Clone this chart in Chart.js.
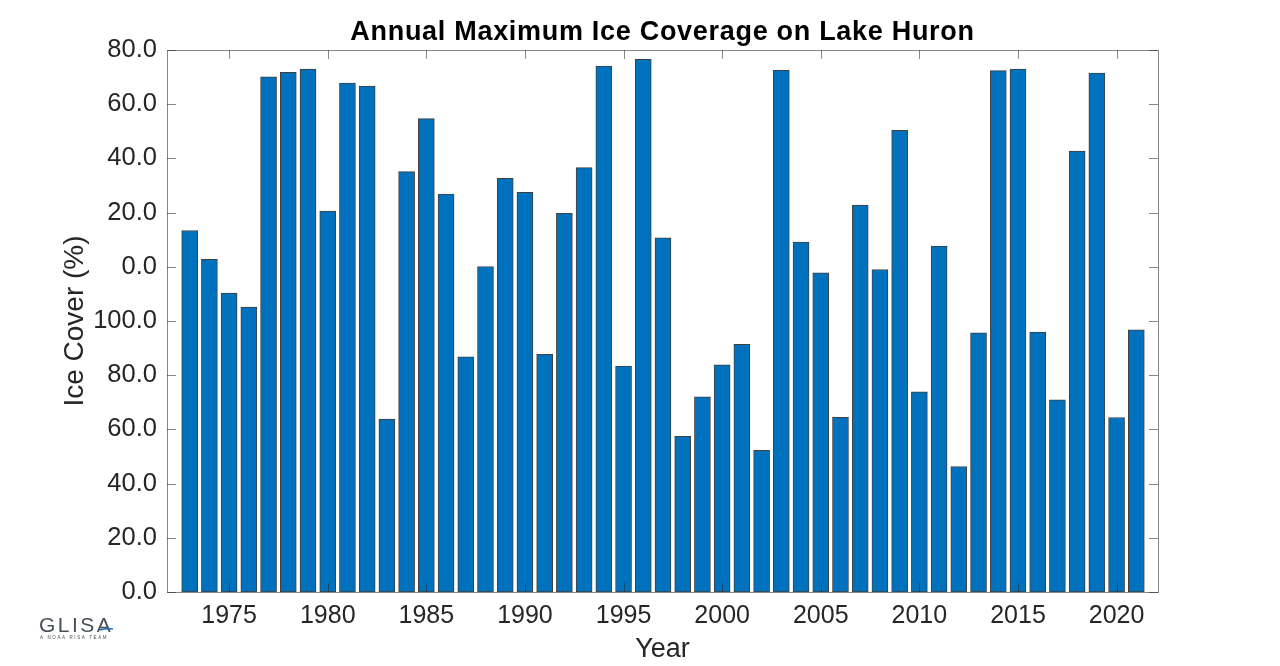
<!DOCTYPE html>
<html>
<head>
<meta charset="utf-8">
<script src="https://cdn.jsdelivr.net/npm/chart.js@4.4.1/dist/chart.umd.min.js"></script>
<style>
  html, body { margin: 0; padding: 0; background: #ffffff; }
  #wrap { width: 1280px; height: 666px; position: relative; }
</style>
</head>
<body>
<div id="wrap"><canvas id="c" width="1280" height="666"></canvas></div>
<script>
// ---- data (y in axis units 0..200) ----
const years = [1973,1974,1975,1976,1977,1978,1979,1980,1981,1982,1983,1984,1985,1986,1987,1988,1989,1990,1991,1992,1993,1994,1995,1996,1997,1998,1999,2000,2001,2002,2003,2004,2005,2006,2007,2008,2009,2010,2011,2012,2013,2014,2015,2016,2017,2018,2019,2020,2021];
const iceCover = [133.4,122.8,110.3,105.1,190.1,191.8,193.0,140.6,187.8,186.7,63.8,155.1,174.7,146.8,86.8,120.1,152.6,147.5,87.7,139.7,156.6,194.1,83.4,196.6,130.7,57.4,72.0,83.8,91.4,52.3,192.5,129.1,117.8,64.5,142.8,119.0,170.4,73.9,127.6,46.3,95.6,192.4,193.0,95.9,70.9,162.7,191.5,64.4,96.7];
const xTickYears = [1975,1980,1985,1990,1995,2000,2005,2010,2015,2020];
const yTickLabels = ['0.0','20.0','40.0','60.0','80.0','100.0','0.0','20.0','40.0','60.0','80.0'];
const titleText = 'Annual Maximum Ice Coverage on Lake Huron';
const xTitle = 'Year';
const yTitle = 'Ice Cover (%)';
const logoText = 'GLISA';
const logoSub = 'A NOAA RISA TEAM';

const FONT = '"Liberation Sans", Arial, Helvetica, sans-serif';
const AXIS_COLOR = '#262626';

const boxTicks = {
  id: 'boxTicks',
  afterDraw(chart) {
    const {ctx, chartArea: a, scales} = chart;
    const x = scales.x, y = scales.y;
    const L = 9;
    ctx.save();
    ctx.strokeStyle = 'rgba(38,38,38,0.55)';
    ctx.lineWidth = 1;
    ctx.beginPath();
    ctx.rect(Math.round(a.left) + 0.5, Math.round(a.top) + 0.5, Math.round(a.right - a.left), Math.round(a.bottom - a.top));
    ctx.stroke();
    ctx.beginPath();
    x.ticks.forEach(t => {
      const px = Math.round(x.getPixelForValue(t.value)) + 0.5;
      ctx.moveTo(px, a.bottom); ctx.lineTo(px, a.bottom - L);
      ctx.moveTo(px, a.top); ctx.lineTo(px, a.top + L);
    });
    y.ticks.forEach(t => {
      const py = Math.round(y.getPixelForValue(t.value)) + 0.5;
      ctx.moveTo(a.left, py); ctx.lineTo(a.left + L, py);
      ctx.moveTo(a.right, py); ctx.lineTo(a.right - L, py);
    });
    ctx.stroke();

    // title, centred over the plot area
    ctx.fillStyle = '#000000';
    ctx.font = 'bold 27px ' + FONT;
    ctx.textAlign = 'center';
    ctx.textBaseline = 'alphabetic';
    try { ctx.letterSpacing = '0.7px'; } catch (e) {}
    ctx.fillText(titleText, (a.left + a.right) / 2, 39.5);
    try { ctx.letterSpacing = '0px'; } catch (e) {}

    // GLISA logo text
    ctx.fillStyle = '#4a4f57';
    ctx.font = '300 21px ' + FONT;
    ctx.textAlign = 'left';
    try { ctx.letterSpacing = '2.5px'; } catch (e) {}
    ctx.fillText(logoText, 39, 632);
    ctx.font = '4.5px ' + FONT;
    try { ctx.letterSpacing = '1.6px'; } catch (e) {}
    ctx.fillText(logoSub, 40, 639);
    try { ctx.letterSpacing = '0px'; } catch (e) {}
    ctx.strokeStyle = '#1f6fb5';
    ctx.lineWidth = 1.5;
    ctx.beginPath();
    ctx.moveTo(100, 630); ctx.quadraticCurveTo(106, 628, 113, 629);
    ctx.stroke();
    ctx.restore();
  }
};

new Chart(document.getElementById('c'), {
  type: 'bar',
  data: {
    datasets: [{
      data: years.map((yr, i) => ({x: yr, y: iceCover[i]})),
      backgroundColor: '#0072BD',
      borderColor: 'rgba(30,30,30,0.85)',
      borderWidth: 1,
      borderSkipped: false,
      barThickness: 16
    }]
  },
  options: {
    responsive: false,
    animation: false,
    events: [],
    layout: { padding: { left: 45, right: 0, top: 0, bottom: 0 } },
    plugins: {
      legend: { display: false },
      tooltip: { enabled: false },
      title: {
        display: true,
        text: ' ',
        color: 'rgba(0,0,0,0)',
        font: { family: FONT, size: 27, weight: 'bold' },
        padding: { top: 13.5, bottom: 4.1 }
      }
    },
    scales: {
      x: {
        type: 'linear',
        min: 1971.85,
        max: 2022.1,
        offset: false,
        grid: { display: false, drawTicks: false },
        border: { display: false },
        afterBuildTicks: s => { s.ticks = xTickYears.map(v => ({value: v})); },
        afterFit: s => { s.height = 74; },
        ticks: {
          autoSkip: false,
          maxRotation: 0,
          padding: 9,
          color: AXIS_COLOR,
          font: { family: FONT, size: 25 },
          callback: v => String(v)
        },
        title: {
          display: true,
          text: xTitle,
          color: AXIS_COLOR,
          font: { family: FONT, size: 27 },
          padding: { top: 2, bottom: 0 }
        }
      },
      y: {
        type: 'linear',
        position: 'left',
        min: 0,
        max: 200,
        grid: { display: false, drawTicks: false },
        border: { display: false },
        afterFit: s => { s.width = 122; },
        ticks: {
          stepSize: 20,
          padding: 10,
          color: AXIS_COLOR,
          font: { family: FONT, size: 25.5 },
          callback: (v, i) => yTickLabels[i]
        },
        title: {
          display: true,
          text: yTitle,
          color: AXIS_COLOR,
          font: { family: FONT, size: 28 },
          padding: { top: 13, bottom: 0 }
        }
      },
      yR: {
        type: 'linear',
        position: 'right',
        min: 0,
        max: 200,
        grid: { display: false, drawTicks: false },
        border: { display: false },
        ticks: { display: false },
        afterFit: s => { s.width = 122; }
      }
    }
  },
  plugins: [boxTicks]
});
</script>
</body>
</html>
